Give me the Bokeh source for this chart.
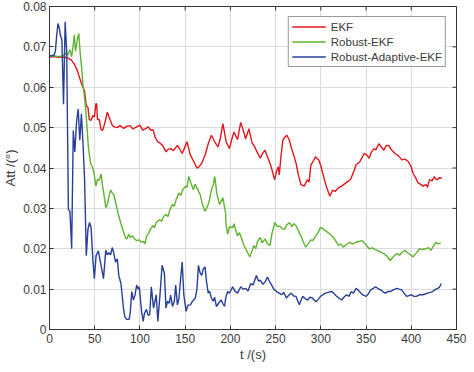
import math
from bokeh.plotting import figure
from bokeh.models import FixedTicker, CustomJSTickFormatter, Range1d, Legend, LegendItem
from bokeh.embed import file_html
from bokeh.resources import INLINE

# ---------------- data ----------------
ekf_t = [0, 5, 10, 15, 20, 24, 28, 31, 35, 38.8,
         40.7, 42.5, 44, 46, 48, 49.6, 51.4, 52.2, 53, 55,
         57, 58.7, 61, 64, 66, 69.5, 72, 74.9, 78, 82,
         85, 89.2, 92, 96.4, 100, 103, 107, 108.8, 112.6, 114.4,
         117, 119.8, 122, 125, 128.8, 131, 134, 137, 141.4, 144,
         146.7, 149, 152, 155.8, 159, 163, 165, 168.3, 172, 175.5,
         179, 182.7, 186.3, 189, 191.7, 195.3, 199, 202, 204, 207.9,
         211.4, 214, 216.8, 220.5, 224, 226, 229.5, 233, 236, 238.4,
         241, 243.8, 246, 249, 251, 253, 254, 256, 258, 260,
         262.5, 265, 267, 270, 272.6, 275, 278, 281.6, 285, 287,
         289, 292, 294, 297.8, 300, 303, 306, 310, 313, 315.8,
         319, 323, 327, 330, 333, 337, 339, 343, 348, 351,
         353.5, 356, 358.9, 361, 364, 367, 369.7, 372, 375, 378,
         382, 386, 389.5, 393, 396.7, 400, 402, 405, 407.5, 410,
         412.9, 416.4, 418, 420, 423, 425.5, 427, 429, 431, 434]
ekf_v = [0.0675, 0.0676, 0.0674, 0.0675, 0.0673, 0.0668, 0.0655, 0.064, 0.0611, 0.059,
         0.0554, 0.055, 0.052, 0.0518, 0.053, 0.0526, 0.056, 0.0558, 0.052, 0.052,
         0.0495, 0.0493, 0.051, 0.0538, 0.0525, 0.0505, 0.0502, 0.050, 0.0505, 0.0498,
         0.0503, 0.0505, 0.0497, 0.0502, 0.0506, 0.0494, 0.0498, 0.0502, 0.0493, 0.0495,
         0.0475, 0.0465, 0.0462, 0.0456, 0.0440, 0.0446, 0.0448, 0.0443, 0.0456, 0.0447,
         0.0436, 0.0448, 0.0465, 0.0432, 0.0418, 0.0400, 0.0402, 0.0412, 0.0432, 0.046,
         0.0481, 0.0465, 0.0452, 0.0475, 0.0510, 0.0465, 0.0448, 0.0475, 0.0489, 0.047,
         0.0513, 0.0495, 0.0472, 0.0497, 0.0462, 0.0456, 0.0440, 0.0424, 0.0438, 0.0444,
         0.0428, 0.0412, 0.0395, 0.0371, 0.0392, 0.0403, 0.0383, 0.0430, 0.0469, 0.0476,
         0.0481, 0.0470, 0.0453, 0.0432, 0.0412, 0.0385, 0.0359, 0.0355, 0.0371, 0.0365,
         0.0408, 0.0418, 0.0428, 0.0420, 0.0405, 0.0379, 0.0355, 0.0330, 0.0345, 0.0342,
         0.0350, 0.0355, 0.0362, 0.0367, 0.0372, 0.0395, 0.0408, 0.0415, 0.0436, 0.0432,
         0.0424, 0.0440, 0.0448, 0.0445, 0.0460, 0.0452, 0.0444, 0.0455, 0.0456, 0.0445,
         0.0436, 0.0430, 0.0420, 0.0422, 0.0416, 0.0402, 0.0387, 0.0375, 0.0363, 0.0360,
         0.0355, 0.0359, 0.0352, 0.0371, 0.0368, 0.0379, 0.0373, 0.0371, 0.0376, 0.0375]

rekf_t = [0, 5, 10, 15, 18, 20, 22.6, 24.4, 26, 27.4,
          28.8, 31, 32.4, 33.9, 35.5, 37, 39, 40.7, 43, 45.3,
          47, 49, 51.4, 53, 55, 57, 58.7, 60.5, 62.2, 64,
          65.8, 67.6, 69.4, 71.2, 74, 76.6, 79, 82, 84, 85.6,
          87.5, 89.2, 92, 94, 96.4, 99, 101.8, 104, 105.5, 107.2,
          110, 112, 114.4, 116, 118, 121.6, 124, 126, 128.8, 131,
          133, 136, 138, 140, 143, 145, 147, 150.4, 152, 154,
          156, 159, 161, 163, 166.6, 169, 172, 175.5, 177, 179,
          181, 182.7, 185.2, 188, 191.7, 194.6, 195.3, 197, 199, 202.4,
          204, 206, 207.9, 210, 212, 215, 218, 221.5, 224, 225.9,
          228, 230, 233, 235, 238.4, 241, 243.8, 246, 249.2, 252,
          254.6, 257, 260, 262, 265.4, 268, 270, 272.6, 275, 278,
          281, 283.4, 286, 288.8, 291, 294.2, 297, 299.6, 302, 305,
          308, 312, 315, 319.3, 322, 324.7, 328, 332, 335, 339,
          342, 346, 349, 353.5, 357, 360, 362.5, 366, 369.7, 373,
          376.9, 380, 384, 387, 390, 393, 396, 399, 402, 405,
          409.3, 412, 416.4, 419, 421.8, 424, 427.2, 430, 432.6]
rekf_v = [0.0677, 0.0678, 0.0676, 0.0678, 0.0685, 0.0680, 0.0693, 0.0675, 0.0700, 0.0730,
          0.0689, 0.0721, 0.0733, 0.0686, 0.0650, 0.0607, 0.0570, 0.0526, 0.0452, 0.0412,
          0.0405, 0.0390, 0.0355, 0.0372, 0.0370, 0.0385, 0.0355, 0.0330, 0.0302, 0.0310,
          0.0330, 0.0346, 0.0338, 0.0334, 0.0305, 0.0281, 0.0262, 0.0240, 0.0228, 0.0224,
          0.0236, 0.0228, 0.0232, 0.0225, 0.0220, 0.0222, 0.0216, 0.0218, 0.0212, 0.0230,
          0.0240, 0.0250, 0.0257, 0.0252, 0.0265, 0.0272, 0.0268, 0.0280, 0.0285, 0.0280,
          0.0295, 0.0310, 0.0305, 0.0322, 0.0338, 0.0332, 0.0345, 0.0355, 0.0352, 0.0379,
          0.0365, 0.0346, 0.0360, 0.0350, 0.0334, 0.0310, 0.0293, 0.0310, 0.0322, 0.0346,
          0.0358, 0.0379, 0.0334, 0.0310, 0.0326, 0.0290, 0.0257, 0.0236, 0.0255, 0.0252,
          0.0262, 0.0245, 0.0232, 0.0240, 0.0228, 0.0208, 0.0195, 0.0180, 0.0195, 0.0208,
          0.0200, 0.0218, 0.0228, 0.0215, 0.0224, 0.0212, 0.0208, 0.0238, 0.0265, 0.0255,
          0.0256, 0.0250, 0.0248, 0.0258, 0.0265, 0.0255, 0.0262, 0.0257, 0.0245, 0.0232,
          0.0215, 0.0204, 0.0212, 0.0222, 0.0220, 0.0232, 0.0240, 0.0253, 0.0250, 0.0245,
          0.0240, 0.0232, 0.0225, 0.0208, 0.0212, 0.0204, 0.0210, 0.0216, 0.0212, 0.0216,
          0.0218, 0.0220, 0.0212, 0.0200, 0.0202, 0.0198, 0.0196, 0.0192, 0.0188, 0.0182,
          0.0171, 0.0180, 0.0188, 0.0184, 0.0192, 0.0196, 0.0190, 0.0185, 0.0180, 0.0188,
          0.0200, 0.0198, 0.0200, 0.0203, 0.0196, 0.0205, 0.0216, 0.0212, 0.0214]

raekf_t = [0, 3, 5, 6.5, 8, 9.4, 11, 11.9, 13.7, 15.5,
           17.3, 19, 20.9, 22.6, 24.5, 26.3, 28, 29.9, 31.7, 33.5,
           35.3, 37.1, 38.8, 40.7, 42.5, 44.3, 46, 47.9, 49.6, 51.5,
           54, 57, 59.7, 62.2, 64, 65.8, 67.5, 69.4, 71, 73,
           75, 76.6, 79, 82, 83.5, 85.6, 88, 89.2, 91, 92.8,
           94.5, 96.4, 98, 99.2, 101.8, 103.6, 105, 107.2, 109, 110.8,
           112.6, 115, 118, 119.8, 122.3, 124.5, 127, 128.8, 130.5, 132.4,
           134, 136, 138, 139.5, 141.4, 143, 145, 146.7, 148.5, 151,
           153, 155.8, 158, 161.2, 163, 164.7, 166.5, 168.3, 170, 172,
           173.5, 175.5, 177, 179, 181, 182.5, 184.5, 187, 189.9, 191.5,
           193.5, 195, 197, 199, 202.5, 205, 207.9, 211.5, 214, 217,
           219.5, 222.4, 225, 228.8, 231, 233, 236, 238.4, 241, 243,
           245.6, 248, 251, 254, 256.5, 259, 261.9, 264.5, 267.3, 270,
           272.6, 276.2, 278, 280, 283, 285.3, 288, 290.7, 293, 295,
           297.5, 299.6, 302, 305, 308, 312, 315, 317.5, 320, 323,
           325.5, 328.3, 331, 333.7, 336, 339, 342, 344.5, 347, 350,
           352.5, 355, 358, 360.5, 363, 366, 368.5, 371.3, 374, 376.8,
           380, 384, 386.5, 389.4, 392, 394.8, 397.5, 400.2, 403, 405.6,
           409, 412.8, 415.5, 418, 421, 423.6, 426, 429, 431, 433.2]
raekf_v = [0.0678, 0.0678, 0.0680, 0.0689, 0.0730, 0.0758, 0.0745, 0.0730, 0.0717, 0.0558,
           0.0762, 0.0689, 0.0297, 0.0293, 0.0200, 0.0493, 0.0440, 0.0514, 0.0546, 0.0469,
           0.0534, 0.0459, 0.0370, 0.0183, 0.0248, 0.0265, 0.0252, 0.0175, 0.0126, 0.0183,
           0.0195, 0.0159, 0.0126, 0.0196, 0.0185, 0.0190, 0.0185, 0.0203, 0.0190, 0.0167,
           0.0175, 0.0134, 0.0114, 0.0049, 0.0030, 0.0025, 0.0025, 0.0040, 0.0094, 0.0073,
           0.0085, 0.0110, 0.0100, 0.0106, 0.0045, 0.0020, 0.0040, 0.0050, 0.0035, 0.0037,
           0.0106, 0.0053, 0.0086, 0.0020, 0.0090, 0.0159, 0.0140, 0.0053, 0.0070, 0.0065,
           0.0085, 0.0057, 0.0070, 0.0110, 0.0061, 0.0075, 0.0126, 0.0167, 0.0086, 0.0045,
           0.0060, 0.0061, 0.0070, 0.0078, 0.0100, 0.0159, 0.0140, 0.0134, 0.0150, 0.0155,
           0.0120, 0.0090, 0.0095, 0.0078, 0.0070, 0.0080, 0.0057, 0.0065, 0.0073, 0.0065,
           0.0057, 0.0080, 0.0094, 0.0090, 0.0106, 0.0095, 0.0090, 0.0106, 0.0100, 0.0102,
           0.0095, 0.0114, 0.0110, 0.0134, 0.0120, 0.0122, 0.0112, 0.0118, 0.0130, 0.0120,
           0.0110, 0.0100, 0.0094, 0.0090, 0.0086, 0.0092, 0.0078, 0.0085, 0.0090, 0.0083,
           0.0082, 0.0061, 0.0072, 0.0082, 0.0076, 0.0073, 0.0080, 0.0078, 0.0072, 0.0069,
           0.0076, 0.0082, 0.0086, 0.0090, 0.0092, 0.0094, 0.0088, 0.0082, 0.0078, 0.0073,
           0.0080, 0.0086, 0.0082, 0.0094, 0.0090, 0.0102, 0.0096, 0.0090, 0.0085, 0.0082,
           0.0088, 0.0098, 0.0102, 0.0106, 0.0102, 0.0098, 0.0094, 0.0090, 0.0094, 0.0094,
           0.0098, 0.0102, 0.0100, 0.0098, 0.0090, 0.0082, 0.0084, 0.0086, 0.0082, 0.0082,
           0.0086, 0.0086, 0.0088, 0.0090, 0.0092, 0.0094, 0.0098, 0.0102, 0.0104, 0.0114]

series_names = ["EKF", "Robust-EKF", "Robust-Adaptive-EKF"]
x_ticks = [0, 50, 100, 150, 200, 250, 300, 350, 400, 450]
y_ticks = [0, 0.01, 0.02, 0.03, 0.04, 0.05, 0.06, 0.07, 0.08]
x_min, x_max = 0, 450
y_min, y_max = 0, 0.08

# ---------------- style ----------------
FONT = "Liberation Sans"
TXT = "#3a3a3a"
EDGE = "#333333"
colors = ["#e3161d", "#5db42f", "#283f98"]

p = figure(width=466, height=364, output_backend="svg", toolbar_location=None,
           x_range=Range1d(x_min, x_max), y_range=Range1d(y_min, y_max),
           min_border_left=4, min_border_right=10, min_border_top=6, min_border_bottom=4)

p.background_fill_color = "white"
p.outline_line_color = EDGE
p.outline_line_width = 1

for ax in (p.xaxis[0], p.yaxis[0]):
    ax.major_tick_in = 4
    ax.major_tick_out = 0
    ax.minor_tick_line_color = None
    ax.axis_line_color = EDGE
    ax.major_tick_line_color = EDGE
    ax.major_label_text_font = FONT
    ax.major_label_text_font_size = "12px"
    ax.major_label_text_color = TXT
    ax.axis_label_text_font = FONT
    ax.axis_label_text_font_size = "13px"
    ax.axis_label_text_font_style = "normal"
    ax.axis_label_text_color = TXT

p.xaxis.ticker = FixedTicker(ticks=x_ticks)
p.yaxis.ticker = FixedTicker(ticks=y_ticks)
p.yaxis.formatter = CustomJSTickFormatter(code="return tick == 0 ? '0' : tick.toFixed(2);")
p.xaxis.axis_label = "t /(s)"
p.yaxis.axis_label = "Att /(°)"
p.xaxis.major_label_standoff = 4
p.yaxis.major_label_standoff = 3
p.xaxis.axis_label_standoff = 1
p.yaxis.axis_label_standoff = 2

p.xgrid.ticker = FixedTicker(ticks=x_ticks)
p.ygrid.ticker = FixedTicker(ticks=y_ticks)
p.grid.grid_line_color = "#dcdcdc"
p.grid.grid_line_width = 1

# inner tick marks on the top and right edges of the box (clipped to the frame)
p.scatter(x_ticks, [y_max] * len(x_ticks), marker="dash", size=8, angle=math.pi / 2,
          line_color=EDGE, line_width=1)
p.scatter([x_max] * len(y_ticks), y_ticks, marker="dash", size=8,
          line_color=EDGE, line_width=1)

r1 = p.line(ekf_t, ekf_v, line_color=colors[0], line_width=1.4)
r2 = p.line(rekf_t, rekf_v, line_color=colors[1], line_width=1.4)
r3 = p.line(raekf_t, raekf_v, line_color=colors[2], line_width=1.4)

legend = Legend(items=[LegendItem(label=series_names[0], renderers=[r1]),
                       LegendItem(label=series_names[1], renderers=[r2]),
                       LegendItem(label=series_names[2], renderers=[r3])],
                location="top_right")
legend.margin = 10
legend.padding = 3
legend.spacing = 2
legend.glyph_width = 34
legend.glyph_height = 13
legend.label_height = 13
legend.label_standoff = 5
legend.label_text_font = FONT
legend.label_text_font_size = "11.5px"
legend.label_text_color = TXT
legend.border_line_color = EDGE
legend.border_line_width = 1
legend.background_fill_alpha = 1
p.add_layout(legend, "center")

open("out.html", "w").write(file_html(p, INLINE))
